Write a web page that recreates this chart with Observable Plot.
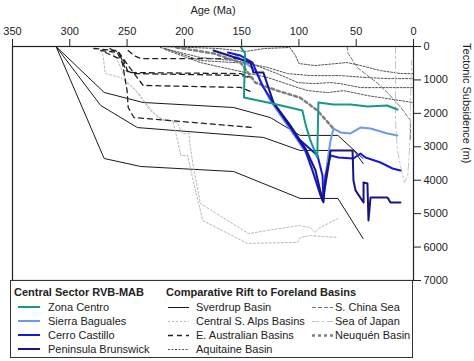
<!DOCTYPE html>
<html>
<head>
<meta charset="utf-8">
<script src="https://cdn.jsdelivr.net/npm/d3@7"></script>
<script src="https://cdn.jsdelivr.net/npm/@observablehq/plot@0.6"></script>
<style>
  body { margin: 0; background: #fff; }
  #wrap { position: relative; width: 474px; height: 361px; font-family: "Liberation Sans", Arial, sans-serif; color: #222; overflow: hidden; }
  #chart { position: absolute; left: 0; top: 0; }
  #legend { position: absolute; left: 10px; top: 280px; width: 401px; height: 76px; border: 1.5px solid #333; background: #fff; }
  .lg { position: absolute; font-size: 11px; line-height: 14px; height: 14px; white-space: nowrap; }
  .lt { position: absolute; font-size: 11px; font-weight: bold; line-height: 14px; white-space: nowrap; }
  .sw { position: absolute; }
</style>
</head>
<body>
<div id="wrap">
  <div id="chart"></div>
  <div id="legend"></div>
</div>
<script>
// ---- axis ticks & labels
const ageTicks = [350, 300, 250, 200, 150, 100, 50, 0];
const depthTicks = [0, 1000, 2000, 3000, 4000, 5000, 6000, 7000];
const xLabel = "Age (Ma)";
const yLabel = "Tectonic Subsidence (m)";

// ---- Central Sector RVB-MAB curves: [age Ma, tectonic subsidence m]
const zonaCentro = [[151,0],[147,210],[148,1525],[123,1705],[97,1915],[94,2360],[90,2810],[84,3320],[83,1675],[70,1735],[55,1735],[40,1795],[23,1765],[14,1885]];
const sierraBaguales = [[155,270],[138,720],[125,1615],[107,2510],[94,3170],[85.5,3950],[79.4,4545],[77.7,4155],[75,3410],[72.4,2810],[69.8,2455],[63.7,2570],[55,2600],[46.3,2425],[37.5,2455],[22.7,2600],[14,2660]];
const cerroCastillo = [[162,180],[151,270],[140.5,480],[132,1165],[122,1705],[107.4,2425],[94.3,3110],[88.2,3710],[81.2,4455],[78.6,4665],[76.8,3860],[72.4,3260],[65.5,3320],[52.4,3350],[46.3,3200],[41.9,3320],[28.8,3470],[18.3,3650],[11.4,3710]];
const cerroCastillo2 = [[98.6,2810],[83.8,3260],[79.4,3860],[78.6,4605]];
const peninsulaBrunswick = [[174.6,120],[142.3,480],[139.7,780],[131,780],[122.2,1675],[107.4,2365],[94.3,3050],[85.5,3710],[79.4,4605],[77.7,4305],[74.2,3560],[72.4,3110],[63.7,3110],[53.2,3110],[52.4,4010],[50.6,4305],[43.6,4665],[43.6,4070],[40.2,4100],[39.3,5205],[37.5,4515],[22.7,4515],[20.1,4665],[11.4,4665]];

// ---- Comparative rift-to-foreland basins
const sverdrup = [
  [[312,0],[270,1375],[236,1675],[157,1825],[125,2125],[99,2660],[66,2660],[44,3350]],
  [[312,0],[273,1765],[241,2425],[131,2720],[99,3110],[52,3110],[44,3500]],
  [[312,0],[270,3350],[238,3590],[157,3740],[99,4545],[66,4545],[44,5745]]
];
const centralSAlps = [
  [[273,120],[271,270],[269,810],[256,925],[244,1255],[232,1765],[223,2125],[206,2275],[202,2600],[196,2600],[195,2960],[192,3620],[186,4695],[144,5595],[100,5355],[90,5415],[86,5565],[83,5445],[66,5145]],
  [[264,120],[257,510],[251,1015],[240,1405],[230,1915],[218,2215],[210,2215],[203,3260],[197,3260],[195,3620],[184,5205],[145,5890],[101,5860],[99,5715],[90,5655],[66,5715]]
];
const eAustralian = [
  [[249,120],[244,270],[238,360],[151,360]],
  [[279,60],[260,120],[256,270],[251,720],[244,810],[151,865],[140,955]],
  [[269,180],[253,420],[249,780],[151,810],[142,925]],
  [[273,120],[257,180],[249,570],[236,1165],[151,1225],[140,1375]],
  [[265,60],[258,210],[254,510],[250,1315],[249,1825],[244,2125],[140,2425]]
];
const aquitaine = [
  [[221,0],[170,60],[147,150],[130,60],[108,30],[103,270],[100,510],[86,570],[58,480],[46,570],[29,720],[11,810],[0,810]],
  [[221,30],[186,330],[157,420],[127,630],[110,810],[90,870],[64,870],[40,930],[23,960],[0,960]],
  [[217,60],[186,420],[142,510],[119,810],[101,1080],[87,1110],[72,1080],[64,1110],[46,1230],[23,1230],[0,1230]],
  [[217,90],[186,480],[127,930],[101,1230],[92,1320],[75,1380],[61,1320],[40,1470],[11,1620],[0,1680]]
];
const sChinaSea = [[[58,0],[57,210],[49,630],[31,1110],[22,1405],[11,1825],[2.6,2215],[2.6,2810]]];
const seaOfJapan = [[[15.7,0],[15.7,2215],[14,3110],[11.4,3560],[8,4070],[5,3860],[3.5,3110],[2.6,1615],[1.7,420]]];
const neuquen = [[[207,30],[174,210],[151,480],[138,1080],[119,1320],[99,1530],[84,1910],[70,2450]]];

// ---- legend groups
const groupNames = ["Central Sector RVB-MAB", "Comparative Rift to Foreland Basins"];
const rvbNames = ["Zona Centro", "Sierra Baguales", "Cerro Castillo", "Peninsula Brunswick"];
const compNamesA = ["Sverdrup Basin", "Central S. Alps Basins", "E. Australian Basins", "Aquitaine Basin"];
const compNamesB = ["S. China Sea", "Sea of Japan", "Neuquén Basin"];

const styles = {
  "Sverdrup Basin":        {stroke: "#1a1a1a", w: 1, dash: null},
  "Central S. Alps Basins":{stroke: "#b8b8b8", w: 1, dash: "2,2"},
  "E. Australian Basins":  {stroke: "#222", w: 1.3, dash: "5,4"},
  "Aquitaine Basin":       {stroke: "#555", w: 1, dash: "2,1.5"},
  "S. China Sea":          {stroke: "#777", w: 1, dash: "4,2"},
  "Sea of Japan":          {stroke: "#c4c4c4", w: 1, dash: "7,3,2,3"},
  "Neuquén Basin":         {stroke: "#808080", w: 2.5, dash: "3,3"},
  "Zona Centro":           {stroke: "#17998a", w: 2, dash: null},
  "Sierra Baguales":       {stroke: "#6d9be6", w: 2, dash: null},
  "Cerro Castillo":        {stroke: "#1717e0", w: 2, dash: null},
  "Peninsula Brunswick":   {stroke: "#16167e", w: 2, dash: null}
};

const seriesData = [
  ["Sverdrup Basin", sverdrup],
  ["Central S. Alps Basins", centralSAlps],
  ["E. Australian Basins", eAustralian],
  ["Aquitaine Basin", aquitaine],
  ["S. China Sea", sChinaSea],
  ["Sea of Japan", seaOfJapan],
  ["Neuquén Basin", neuquen],
  ["Sierra Baguales", [sierraBaguales]],
  ["Cerro Castillo", [cerroCastillo, cerroCastillo2]],
  ["Peninsula Brunswick", [peninsulaBrunswick]],
  ["Zona Centro", [zonaCentro]]
];

const lineMarks = seriesData.map(([name, curves]) => {
  const rows = curves.flatMap((c, i) => c.map(([age, depth]) => ({name, curve: name + i, age, depth})));
  const s = styles[name];
  return Plot.line(rows, {x: "age", y: "depth", z: "curve", stroke: s.stroke, strokeWidth: s.w,
    strokeDasharray: s.dash || undefined, strokeLinejoin: "round", clip: true});
});

const chart = Plot.plot({
  width: 474, height: 292,
  marginTop: 46, marginBottom: 12, marginLeft: 12, marginRight: 61,
  style: {fontFamily: "Liberation Sans, Arial, sans-serif", fontSize: "11px", color: "#222", background: "transparent"},
  x: {domain: [350, 0]},
  y: {domain: [0, 7000], reverse: true},
  marks: [
    Plot.axisX({anchor: "top", ticks: ageTicks, tickSize: 8, tickPadding: 4, label: null, tickFormat: d => `${d}`}),
    Plot.axisY({anchor: "right", ticks: depthTicks, tickSize: 7, tickPadding: 3, label: null, tickFormat: d => `${d}`}),
    ...lineMarks,
    Plot.frame({stroke: "#222", strokeWidth: 1.2}),
    Plot.text([xLabel], {frameAnchor: "top", dy: -40, text: d => d, fontSize: 11}),
    Plot.text([yLabel], {frameAnchor: "right", dx: 53, rotate: 90, text: d => d, fontSize: 11})
  ]
});
document.getElementById("chart").appendChild(chart);

// ---- legend (HTML, outside the SVG)
const wrap = document.getElementById("wrap");
function addTitle(text, x, yc) {
  const d = document.createElement("div");
  d.className = "lt"; d.textContent = text;
  d.style.left = x + "px"; d.style.top = (yc - 7) + "px";
  wrap.appendChild(d);
}
function addItem(name, sx0, sx1, tx, yc) {
  const s = styles[name];
  const ns = "http://www.w3.org/2000/svg";
  const svg = document.createElementNS(ns, "svg");
  svg.setAttribute("class", "sw");
  svg.setAttribute("width", sx1 - sx0); svg.setAttribute("height", 8);
  svg.style.left = sx0 + "px"; svg.style.top = Math.round(yc - 4) + "px";
  const l = document.createElementNS(ns, "line");
  const ly = (Math.round(s.w) % 2 === 1) ? 4.5 : 4;
  l.setAttribute("x1", 0); l.setAttribute("x2", sx1 - sx0);
  l.setAttribute("y1", ly); l.setAttribute("y2", ly);
  l.setAttribute("stroke", s.stroke); l.setAttribute("stroke-width", s.w);
  if (s.dash) l.setAttribute("stroke-dasharray", s.dash);
  svg.appendChild(l);
  wrap.appendChild(svg);
  const d = document.createElement("div");
  d.className = "lg"; d.textContent = name;
  d.style.left = tx + "px"; d.style.top = (yc - 7) + "px";
  wrap.appendChild(d);
}
const rowY = [307, 320.5, 334.5, 348.5];
addTitle(groupNames[0], 14, 292);
addTitle(groupNames[1], 166, 292);
rvbNames.forEach((n, i) => addItem(n, 18, 40, 48, rowY[i]));
compNamesA.forEach((n, i) => addItem(n, 168, 189, 196, rowY[i]));
compNamesB.forEach((n, i) => addItem(n, 312, 333, 335, rowY[i]));
</script>
</body>
</html>
